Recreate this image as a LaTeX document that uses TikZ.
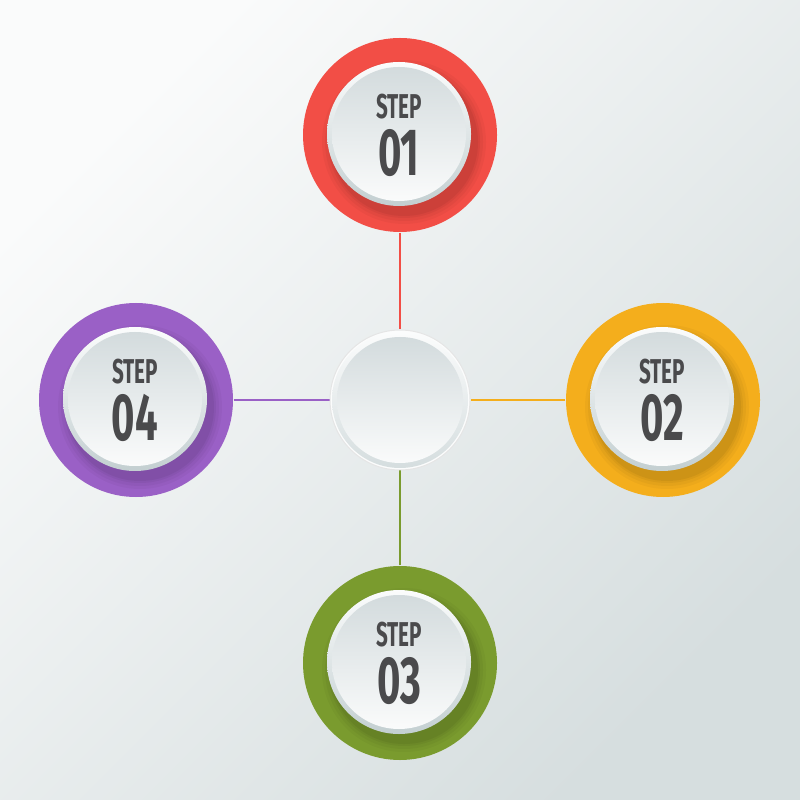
\documentclass[tikz,border=0pt]{standalone}
\usepackage{fontspec}
\setmainfont{Fira Sans}[FakeStretch=0.6]
\pgfdeclarelayer{bg}
\pgfdeclarelayer{lines}
\pgfsetlayers{bg,lines,main}
\definecolor{bgA}{HTML}{FAFBFB}
\definecolor{bgB}{HTML}{D6DEDF}
\definecolor{cred}{HTML}{F24E46}
\definecolor{cyel}{HTML}{F4AE1C}
\definecolor{cgrn}{HTML}{7A9B2E}
\definecolor{cpur}{HTML}{9A60C6}
\definecolor{rimtop}{HTML}{FBFCFC}
\definecolor{rimbot}{HTML}{C3CFD1}
\definecolor{facetop}{HTML}{D3DBDD}
\definecolor{facebot}{HTML}{FAFBFB}
\definecolor{txt}{HTML}{4A4A4C}
\tikzset{
  ringnode/.style={circle, minimum size=19.4mm, inner sep=0pt},
  hubnode/.style={circle, minimum size=14mm, inner sep=0pt, fill=rimtop, draw=black!10, line width=0.1mm},
  steplab/.style={text=txt, font=\bfseries\fontsize{9.8pt}{10pt}\selectfont, inner sep=0pt},
  numlab/.style={text=txt, font=\bfseries\fontsize{19pt}{19pt}\selectfont, inner sep=0pt},
  conn/.style={line width=0.25mm}
}
\newcommand\stepring[5]{%
  \node[ringnode, fill=#4] (#1) at (#2,#3) {};
  \begin{scope}[shift={(#2,#3)}]
    \begin{scope}
      \clip (0,0) circle (9.7mm);
      \foreach \k/\o in {10/0.03,7/0.035,4/0.045,2/0.05}
        \fill[black, opacity=\o] (4,7) circle ({7.2mm+\k*0.1mm});
    \end{scope}
    \shade[top color=rimtop, bottom color=rimbot] (-1,-1) circle (7.2mm);
    \shade[top color=facetop, bottom color=facebot] (-1,-1) circle (6.7mm);
  \end{scope}
  \node[steplab] (#1s) at (#2-1,#3-28) {STEP};
  \node[numlab] (#1n) at (#2-1,#3+18) {#5};
}
\begin{document}
\begin{tikzpicture}[x=0.1mm, y=-0.1mm]
  \useasboundingbox (0,0) rectangle (800,800);
  \begin{pgfonlayer}{bg}
    \shade[shading=axis, top color=bgA, bottom color=bgB, shading angle=45] (0,0) rectangle (800,800);
  \end{pgfonlayer}
  % hub
  \node[hubnode] (hub) at (400,400) {};
  \begin{scope}[shift={(400,400)}]
    \shade[top color=rimtop, bottom color=rimbot!70!white] (0,0) circle (6.8mm);
    \shade[top color=facetop, bottom color=facebot] (0,0) circle (6.3mm);
  \end{scope}
  \stepring{r1}{400}{135}{cred}{01}
  \stepring{r2}{663}{400}{cyel}{02}
  \stepring{r3}{400}{663}{cgrn}{03}
  \stepring{r4}{136}{400}{cpur}{04}
  \begin{pgfonlayer}{lines}
    \draw[conn, cred] (r1) -- (hub);
    \draw[conn, cyel] (r2) -- (hub);
    \draw[conn, cgrn] (r3) -- (hub);
    \draw[conn, cpur] (r4) -- (hub);
  \end{pgfonlayer}
\end{tikzpicture}
\end{document}
